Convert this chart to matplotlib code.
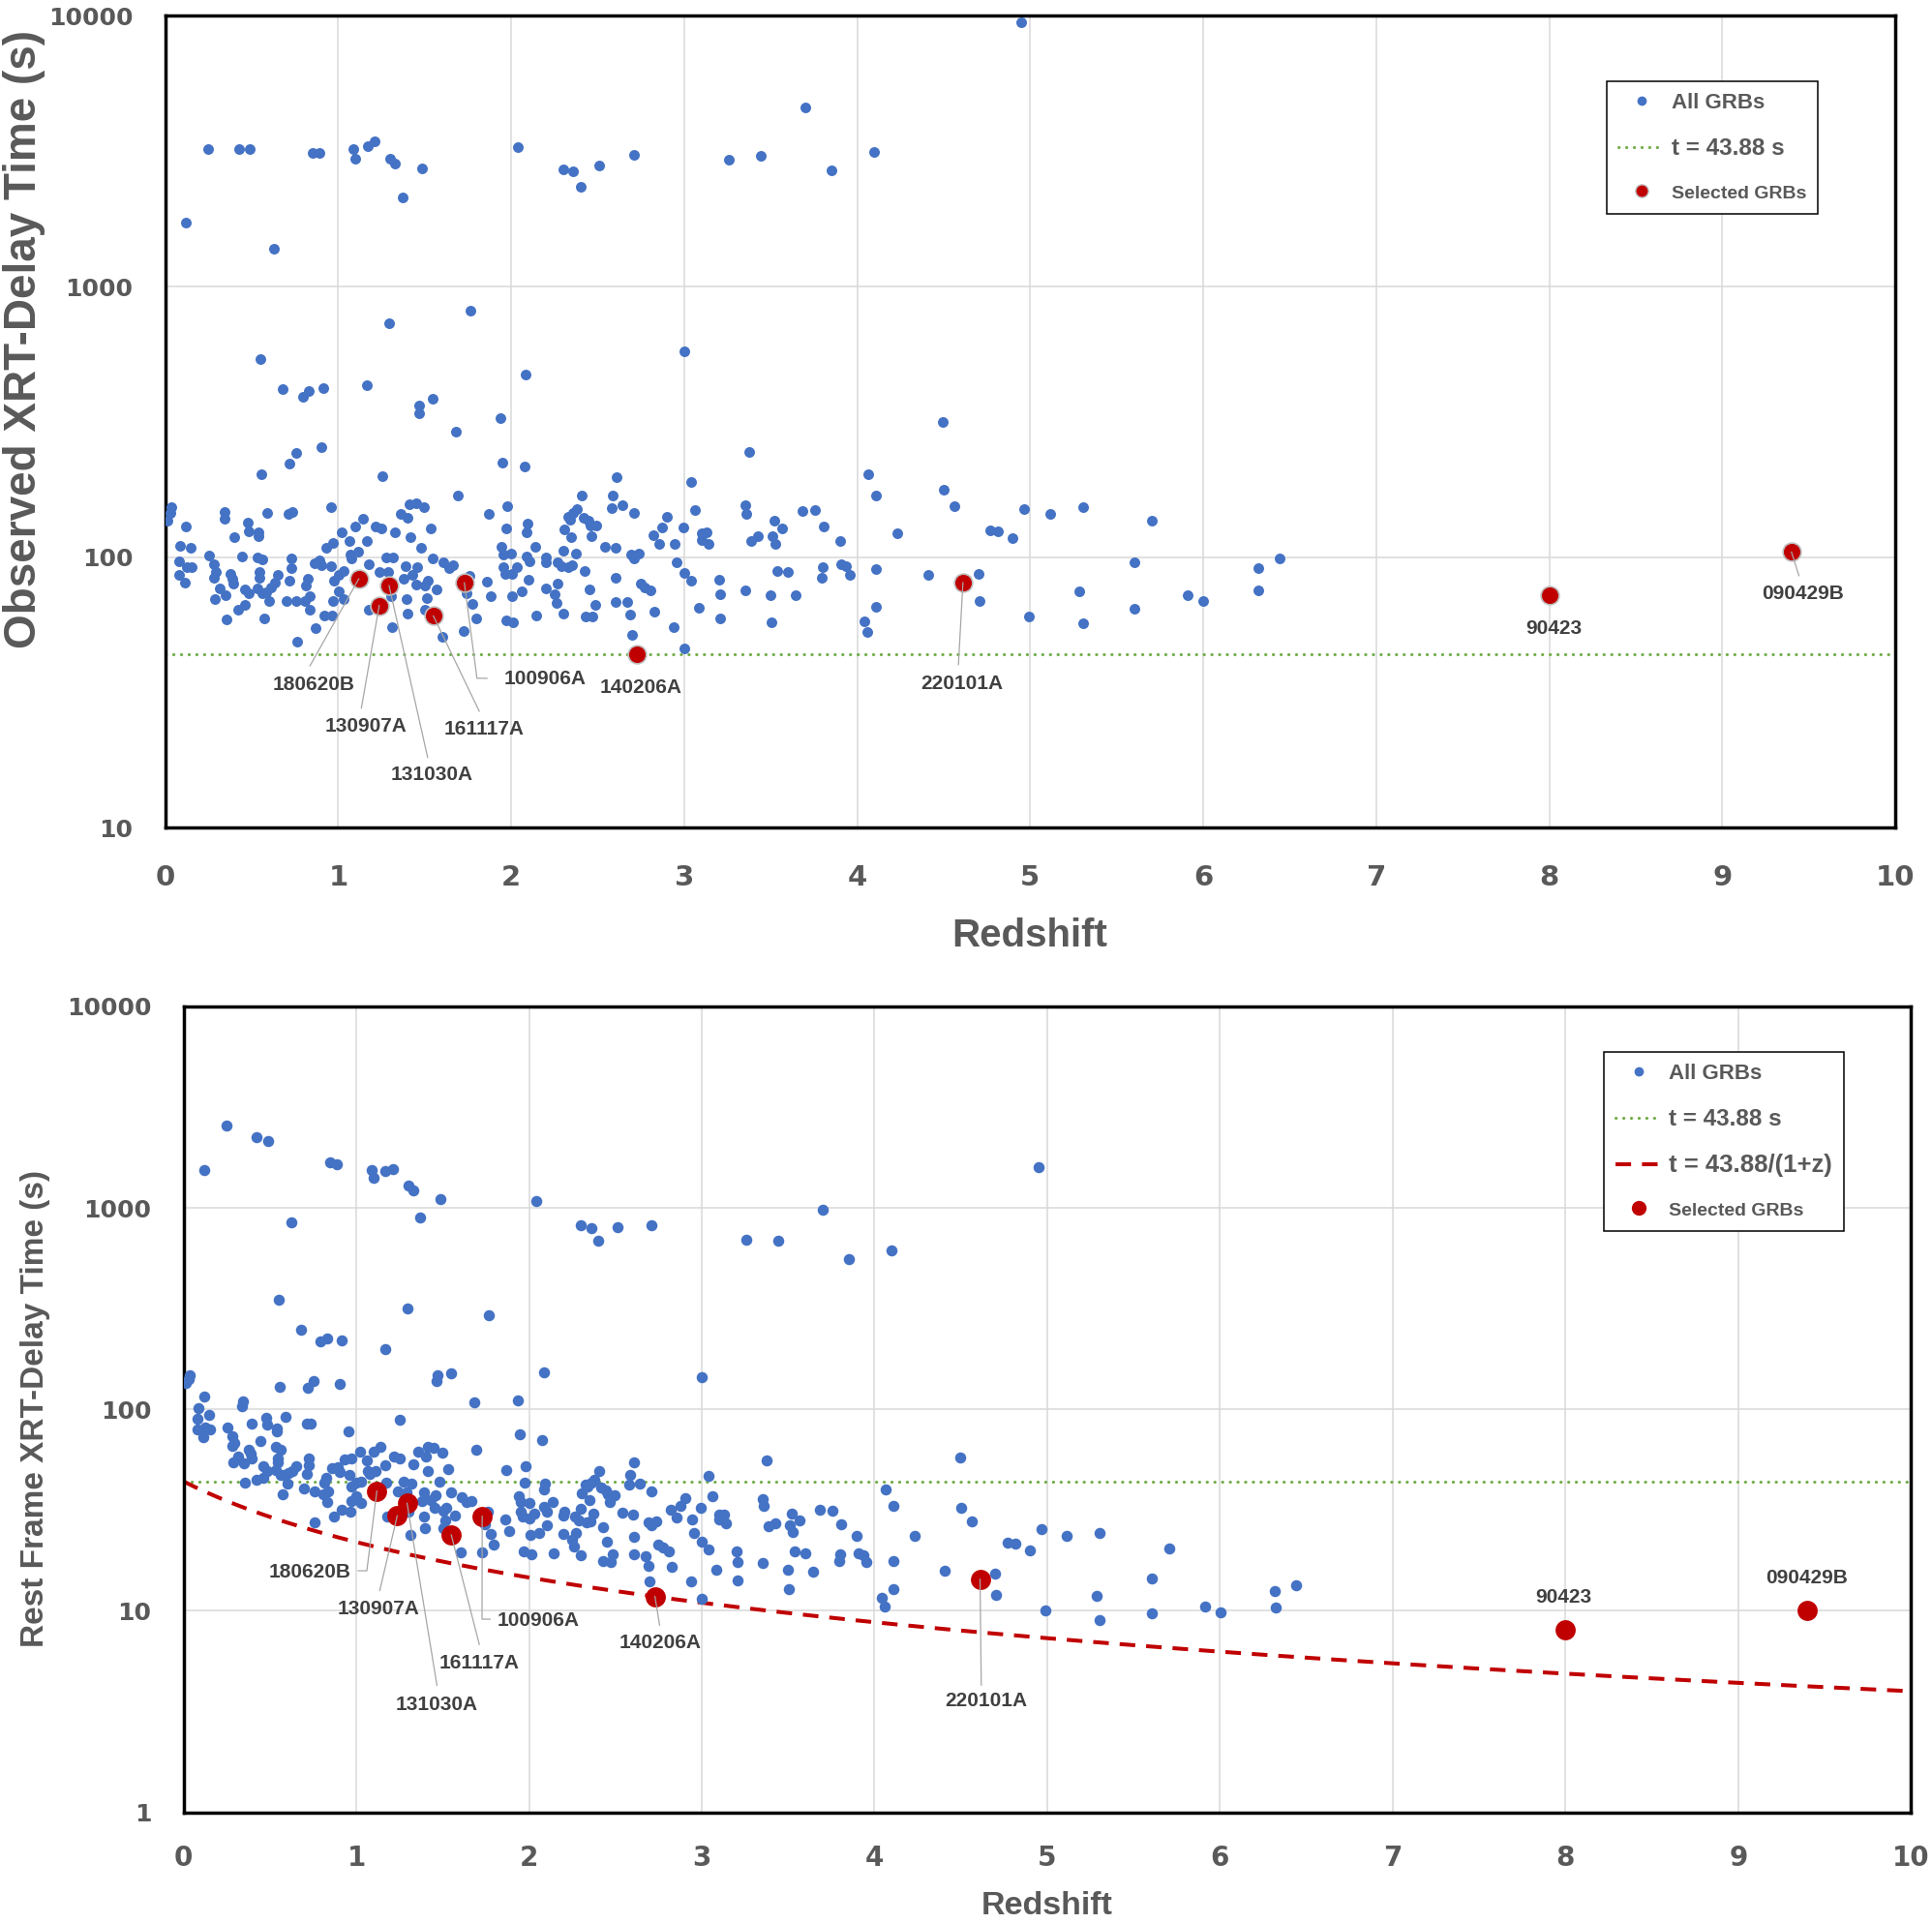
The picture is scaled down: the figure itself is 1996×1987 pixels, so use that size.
import matplotlib.pyplot as plt
import numpy as np
import matplotlib.ticker as mticker
from matplotlib.lines import Line2D

plt.rcParams['font.family'] = ['DejaVu Sans']
plt.rcParams['font.weight'] = 'bold'

# All GRBs: redshift and observed XRT delay time (s)
z_all = [4.95, 3.70, 0.25, 0.425, 0.49, 0.85, 0.89, 1.09, 1.10, 1.17, 1.21, 1.30, 1.33, 1.485,
         1.37, 2.04, 2.30, 2.36, 2.40, 2.51, 2.71, 3.26, 3.44, 3.85, 4.10, 0.12, 0.626,
         1.767, 1.297, 0.549, 3.0, 2.085, 1.166, 0.68, 0.831, 0.794, 0.915, 1.546, 1.468,
         1.465, 1.938, 1.683, 4.497,
         0.903, 0.755, 0.72, 0.556, 1.253, 1.949, 2.076, 2.61, 1.692, 2.406, 2.587, 2.58,
         0.037, 0.032, 0.013, 0.121, 0.343, 0.341, 0.397, 0.479, 0.483, 0.539, 0.541, 0.591,
         0.712, 0.737, 0.957, 1.022, 1.099, 1.141, 1.063, 1.166, 1.218, 1.252, 1.328, 1.36,
         1.403, 1.412, 1.449, 1.496, 1.416, 1.533, 1.479, 1.546, 1.608, 1.64, 1.664, 1.869,
         1.979, 1.972, 2.093, 2.087, 1.942, 1.953, 2.0, 2.138, 2.087, 2.106, 1.953, 2.031,
         1.966, 2.005, 2.102, 2.203, 2.201, 2.266, 2.289, 2.332, 2.354, 2.302, 2.373, 2.427,
         2.307, 2.34, 2.33, 2.36, 2.38, 2.348, 2.42, 2.447, 2.456, 2.494, 2.466, 2.541,
         2.602, 2.27, 2.199, 2.251, 2.261, 2.302, 2.453, 2.485, 2.428, 2.471, 2.606, 2.606,
         2.145, 1.97, 2.013, 2.007, 2.061, 1.884, 1.86, 1.798, 1.727, 1.778, 1.744, 1.759,
         1.602, 1.569, 1.52, 1.502, 1.513, 1.502, 1.453, 1.39, 1.459, 1.38, 1.43, 1.393,
         1.399, 1.313, 1.304, 1.276, 1.319, 1.238, 1.291, 1.175, 1.179, 1.114, 1.069, 1.076,
         1.03, 1.002, 0.974, 1.002, 0.97, 1.03, 0.961, 0.933, 0.97, 0.862, 0.893, 0.905,
         0.824, 0.815, 0.838, 0.759, 0.699, 0.81, 0.834, 0.918, 0.964, 0.871, 0.761, 0.727,
         0.727, 0.716, 0.653, 0.632, 0.61, 0.582, 0.6, 0.573, 0.532, 0.563, 0.546, 0.546,
         0.535, 0.56, 0.461, 0.483, 0.461, 0.42, 0.446, 0.379, 0.386, 0.395, 0.317, 0.349,
         0.356, 0.289, 0.255, 0.28, 0.293, 0.283, 0.088, 0.149, 0.078, 0.125, 0.153, 0.08,
         0.112,
         2.641, 2.708, 2.822, 2.854, 2.874, 2.902, 2.943, 2.994, 3.04, 3.063, 3.1, 3.128,
         3.1, 3.141, 3.374, 3.352, 3.358, 3.384, 3.428, 3.52, 3.568, 3.51, 3.529, 3.684,
         3.757, 3.809, 3.899, 4.063, 4.109, 4.232, 4.499, 4.561, 4.77, 4.816, 4.9, 4.964,
         5.113, 2.692, 2.708, 2.736, 2.673, 2.69, 2.699, 2.75, 2.774, 2.807, 2.828, 2.94,
         2.955, 2.999, 3.039, 2.999, 3.083, 3.201, 3.208, 3.206, 3.352, 3.5, 3.503, 3.54,
         3.6, 3.645, 3.8, 3.796, 3.906, 3.934, 3.955, 4.107, 4.107, 4.044, 4.059, 4.408,
         4.699, 4.706, 4.99,
         5.303, 5.704, 5.603, 5.286, 5.303, 5.603, 5.911, 6.001, 6.318, 6.441, 6.321]

t_obs = [9500, 4590, 3215, 3215, 3215, 3125, 3125, 3210, 2960, 3305, 3435, 2960, 2845, 2735,
         2133, 3290, 2720, 2675, 2333, 2812, 3060, 2953, 3040, 2697, 3140, 1722, 1378,
         813, 732, 541, 575, 472, 432, 417, 412, 391, 421, 384, 364,
         341, 326, 291, 316,
         255, 242, 221, 202, 200, 223, 217, 197, 169, 169, 169, 152,
         153, 146, 137, 130, 147, 139, 119, 134, 125, 124, 120, 146,
         145, 147, 153, 124, 130, 139, 115, 115, 130, 128, 124, 145,
         140, 157, 158, 153, 119, 128, 108, 99, 95.5, 91.4, 93.6, 144,
         155, 128, 133, 124, 109, 102, 103, 109, 101, 96.9, 91.6, 91.6,
         86.8, 86.8, 82.8, 99.5, 95.5, 95.5, 92.9, 91.6, 93.6, 106, 103, 88.9,
         127, 138, 141, 146, 151, 119, 140, 136, 131, 131, 120, 109,
         108, 79.8, 77, 73.1, 68, 62, 76.2, 66.8, 60.4, 60.4, 84.3, 68.5,
         60.7, 58.6, 57.5, 71.6, 74.6, 71.6, 81.5, 59.4, 53.2, 67.2, 73.6, 85.6,
         50.7, 76.2, 82, 78.3, 70.5, 64.1, 79.4, 92.9, 92.0, 83.2, 86.3, 70,
         62, 55.2, 71.6, 99.5, 99.5, 87.9, 88.5, 94.6, 63.8, 104.5, 102, 98.8,
         89, 86.3, 81.7, 74.6, 69, 70, 92.9, 108.6, 112.5, 94.8, 97.3, 93.6,
         83.6, 78.3, 71.6, 68.7, 68.7, 68.7, 63.8, 60.7, 60.7, 54.7, 48.6, 98.6,
         91.2, 81.7, 86.3, 80.9, 77.6, 74.5, 68.7, 59.6, 99.5, 98.2, 87.9, 84.3,
         76.6, 73.6, 76, 73.6, 66.8, 63.8, 101, 86.8, 83.2, 79.8, 76.6, 72.6,
         58.7, 70, 101.6, 94.2, 87.9, 84.3, 110, 108, 96.9, 91.6, 91.6, 86.3,
         80.9,
         156, 146, 121, 112, 129, 141, 112, 129, 189, 150, 123, 124,
         116, 112, 245, 156, 145, 115, 120, 137, 128, 120, 112, 148,
         149, 130, 115, 202, 169, 123, 178, 155, 126, 125, 118, 151,
         144, 102, 98.9, 103.5, 68.3, 61.5, 51.5, 79.6, 77.6, 75.2, 63, 55.3,
         96, 87.7, 81.8, 46.1, 65, 82.8, 73.1, 59.6, 75.4, 72.1, 57.5, 89.3,
         88.3, 72.3, 92, 84.3, 94.6, 92.9, 86.3, 90.3, 65.8, 58.2, 53, 85.8,
         87.1, 68.7, 60.3,
         153, 136, 96, 74.8, 56.8, 64.5, 72.2, 68.9, 91.4, 99.3, 75.7]

# selected GRBs
names = ['180620B', '130907A', '131030A', '161117A', '100906A', '140206A', '220101A',
         '90423', '090429B']
z_sel = [1.119, 1.237, 1.294, 1.55, 1.729, 2.729, 4.611, 8.0, 9.4]
t_sel = [83.2, 66.3, 78.5, 60.7, 80.4, 43.9, 80.5, 72.1, 104.5]

t_cut = 43.88

z_all = np.array(z_all)
t_obs = np.array(t_obs)
z_sel = np.array(z_sel)
t_sel = np.array(t_sel)
# rest frame delay
t_rest = t_obs / (1 + z_all)
t_sel_rest = t_sel / (1 + z_sel)

# label placement: text centre and leader path (after the point), data units
top_labels = [((0.859, 33.7), [(0.837, 39.7)]),
              ((1.161, 23.7), [(1.134, 27.7)]),
              ((1.541, 15.7), [(1.517, 18.2)]),
              ((1.843, 23.1), [(1.815, 27.0)]),
              ((2.196, 35.4), [(1.802, 35.7), (1.86, 35.7)]),
              ((2.75, 33.1), []),
              ((4.608, 34.1), [(4.585, 40.1)]),
              ((8.027, 54.3), []),
              ((9.463, 73.5), [(9.443, 85.5)])]
bot_labels = [((0.731, 15.5), [(1.061, 15.8), (1.011, 15.8)]),
              ((1.131, 10.2), [(1.136, 12.6)]),
              ((1.467, 3.42), [(1.467, 4.27)]),
              ((1.712, 5.52), [(1.712, 6.81)]),
              ((2.056, 8.91), [(1.728, 9.09), (1.775, 9.09)]),
              ((2.757, 6.9), [(2.756, 8.49)]),
              ((4.647, 3.56), [(4.618, 4.28)]),
              ((7.99, 11.6), []),
              ((9.397, 14.6), [])]

BLUE = '#4472C4'
RED = '#C00000'
GREEN = '#70AD47'
GREY = '#595959'
LAB = 'Liberation Sans'

fig = plt.figure(figsize=(19.96, 19.87), dpi=100)
ax1 = fig.add_axes([0.0855, 0.5695, 0.8955, 0.4222])
ax2 = fig.add_axes([0.0950, 0.0576, 0.8941, 0.4190])


def style_axis(ax, ymin, xsize, xpad, ypad):
    ax.set_yscale('log')
    ax.set_xlim(0, 10)
    ax.set_ylim(ymin, 10000)
    ax.xaxis.set_major_locator(mticker.MultipleLocator(1))
    ax.yaxis.set_major_locator(mticker.LogLocator(base=10, numticks=10))
    ax.yaxis.set_minor_locator(mticker.NullLocator())
    ax.yaxis.set_major_formatter(mticker.FuncFormatter(lambda v, p: '%d' % round(v)))
    ax.grid(True, color='#d9d9d9', lw=1.1)
    ax.set_axisbelow(True)
    ax.tick_params(axis='x', length=0, labelsize=xsize, labelcolor=GREY, pad=xpad)
    ax.tick_params(axis='y', length=0, labelsize=18, labelcolor=GREY, pad=ypad)
    for s in ax.spines.values():
        s.set_linewidth(2.5)
        s.set_color('black')


def draw_labels(ax, zs, ts, labels):
    for name, z, t, (txt, path) in zip(names, zs, ts, labels):
        if path:
            px = [z] + [p[0] for p in path]
            py = [t] + [p[1] for p in path]
            ax.plot(px, py, color='#a6a6a6', lw=0.9, zorder=5)
        ax.text(txt[0], txt[1], name, ha='center', va='center', fontsize=15,
                family=LAB, fontweight='bold', color='#404040', zorder=6)


def make_legend(ax, handles, texts, sizes, x, y):
    leg = ax.legend(handles, texts, loc='upper left', bbox_to_anchor=(x / 1996, 1 - y / 1987),
                    bbox_transform=fig.transFigure, frameon=True, fancybox=False,
                    edgecolor='black', framealpha=1, handlelength=2.1, handletextpad=0.35,
                    borderpad=0.55, labelspacing=1.1, borderaxespad=0,
                    prop={'family': LAB, 'weight': 'bold', 'size': 16})
    leg.get_frame().set_linewidth(1.1)
    for txt, fs in zip(leg.get_texts(), sizes):
        txt.set_fontsize(fs)
        txt.set_color(GREY)
    return leg


# ---- top panel: observed delay
style_axis(ax1, 10, 21, 27, 24)
ax1.plot(z_all, t_obs, 'o', ms=7.9, color=BLUE, mec='none', zorder=3)
ax1.axhline(t_cut, color=GREEN, lw=2.2, ls=(0, (0.1, 2.5)), dash_capstyle='round', zorder=2)
ax1.plot(z_sel, t_sel, 'o', ms=13.5, mfc=RED, mec='#bfbfbf', mew=1.2, zorder=4)
draw_labels(ax1, z_sel, t_sel, top_labels)

h1 = [Line2D([], [], ls='none', marker='o', ms=7, color=BLUE, mec='none'),
      Line2D([], [], color=GREEN, lw=2.2, ls=(0, (0.1, 2.5)), dash_capstyle='round'),
      Line2D([], [], ls='none', marker='o', ms=9.5, mfc=RED, mec='#bfbfbf', mew=1)]
make_legend(ax1, h1, ['All GRBs', 't = 43.88 s', 'Selected GRBs'], [16, 17.5, 14], 1660, 84)

# ---- bottom panel: rest frame delay
style_axis(ax2, 1, 20, 24, 24)
ax2.plot(z_all, t_rest, 'o', ms=8.3, color=BLUE, mec='none', zorder=3)
ax2.axhline(t_cut, color=GREEN, lw=2.2, ls=(0, (0.1, 2.5)), dash_capstyle='round', zorder=2)
zz = np.linspace(0, 10, 300)
ax2.plot(zz, t_cut / (1 + zz), color=RED, lw=2.9, ls=(0, (4, 2.8)), zorder=2)
ax2.plot(z_sel, t_sel_rest, 'o', ms=15, mfc=RED, mec='none', zorder=4)
draw_labels(ax2, z_sel, t_sel_rest, bot_labels)

h2 = [Line2D([], [], ls='none', marker='o', ms=7, color=BLUE, mec='none'),
      Line2D([], [], color=GREEN, lw=2.2, ls=(0, (0.1, 2.5)), dash_capstyle='round'),
      Line2D([], [], color=RED, lw=2.9, ls=(0, (4, 2.8))),
      Line2D([], [], ls='none', marker='o', ms=11, mfc=RED, mec='none')]
make_legend(ax2, h2, ['All GRBs', 't = 43.88 s', 't = 43.88/(1+z)', 'Selected GRBs'],
            [16, 17.5, 18.5, 14], 1657, 1087)

# axis titles
fig.text(1064 / 1996, 1 - 967 / 1987, 'Redshift', ha='center', va='center',
         fontsize=29, family=LAB, fontweight='bold', color=GREY)
fig.text(25 / 1996, 1 - 350 / 1987, 'Observed XRT-Delay Time (s)', ha='center', va='center',
         rotation=90, fontsize=33, family=LAB, fontweight='bold', color=GREY)
fig.text(1082 / 1996, 1 - 1969 / 1987, 'Redshift', ha='center', va='center',
         fontsize=24.5, family=LAB, fontweight='bold', color=GREY)
fig.text(37 / 1996, 1 - 1456 / 1987, 'Rest Frame XRT-Delay Time (s)', ha='center', va='center',
         rotation=90, fontsize=24, family=LAB, fontweight='bold', color=GREY)

fig.savefig('out.png', dpi=100, facecolor='white')
